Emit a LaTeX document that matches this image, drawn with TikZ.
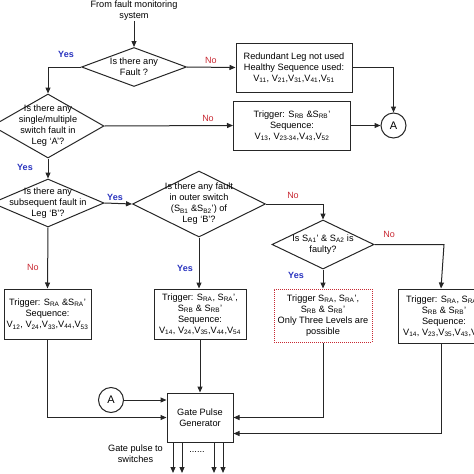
\documentclass[tikz,border=0pt]{standalone}
\usepackage{fontspec}
\setmainfont{Liberation Sans}
\usetikzlibrary{shapes.geometric,arrows.meta,calc}
\newcommand\sbs[1]{\textsubscript{#1}}
\definecolor{yesblue}{RGB}{40,50,190}
\definecolor{nored}{RGB}{200,40,50}
\begin{document}
\begin{tikzpicture}[x=1pt,y=-1pt,
  every node/.style={font=\fontsize{9.2}{11}\selectfont},
  ln/.style={line width=1pt,draw=black!85},
  arr/.style={ln,-{Triangle[length=6pt,width=5pt]}},
  box/.style={draw=black!85,line width=1pt,align=center,inner sep=1pt},
  dia/.style={diamond,draw=black!85,line width=1pt,inner sep=0pt},
  ctext/.style={align=center,inner sep=0pt},
  yes/.style={text=yesblue,font=\fontsize{9}{10}\selectfont\bfseries},
  no/.style={text=nored,font=\fontsize{9}{10}\selectfont},
  conn/.style={circle,draw=black!85,line width=1pt,minimum size=25pt,inner sep=0pt,font=\fontsize{11}{12}\selectfont}
]
\useasboundingbox (0,0) rectangle (474,474);

\node[ctext] (src) at (134,11) {From fault monitoring\\system};
\node[dia,minimum width=105pt,minimum height=39pt,label={[ctext]center:{Is there any\\Fault ?}}] (d1) at (134,67) {};
\node[dia,minimum width=112pt,minimum height=64pt,label={[ctext]center:{Is there any\\single/multiple\\switch fault in\\Leg `A'?}}] (d2) at (48,126) {};
\node[dia,minimum width=112pt,minimum height=48pt,label={[ctext]center:{Is there any\\subsequent fault in\\Leg `B'?}}] (d3) at (48,203) {};
\node[dia,minimum width=133pt,minimum height=66pt,label={[ctext]center:{Is there any fault\\in outer switch\\(S\sbs{B1} \&S\sbs{B2}') of\\Leg `B'?}}] (d4) at (199,204) {};
\node[dia,minimum width=102pt,minimum height=49pt,label={[ctext]center:{Is S\sbs{A1}' \& S\sbs{A2} is\\faulty?}}] (d5) at (323,244.5) {};

\node[box,minimum width=116pt,minimum height=49pt] (b1) at (294,67.5) {Redundant Leg not used\\Healthy Sequence used:\\V\sbs{11}, V\sbs{21},V\sbs{31},V\sbs{41},V\sbs{51}};
\node[box,minimum width=117pt,minimum height=49pt] (b2) at (292,125.5) {Trigger: S\sbs{RB} \&S\sbs{RB}'\\Sequence:\\V\sbs{13}, V\sbs{23-34},V\sbs{43},V\sbs{52}};
\node[conn] (a1) at (393.5,125.5) {A};

\node[box,minimum width=87pt,minimum height=50pt] (b3) at (47.5,314) {Trigger: S\sbs{RA} \&S\sbs{RA}'\\Sequence:\\V\sbs{12}, V\sbs{24},V\sbs{33},V\sbs{44},V\sbs{53}};
\node[box,minimum width=92pt,minimum height=50pt] (b4) at (200,314) {Trigger: S\sbs{RA}, S\sbs{RA}',\\S\sbs{RB} \& S\sbs{RB}'\\Sequence:\\V\sbs{14}, V\sbs{24},V\sbs{35},V\sbs{44},V\sbs{54}};
\node[box,draw=nored,densely dotted,minimum width=98pt,minimum height=53pt] (b5) at (323,315.5) {Trigger S\sbs{RA}, S\sbs{RA}',\\S\sbs{RB} \& S\sbs{RB}'\\Only Three Levels are\\possible};
\node[box,minimum width=92pt,minimum height=54pt] (b6) at (444,316) {Trigger: S\sbs{RA}, S\sbs{RA}',\\S\sbs{RB} \& S\sbs{RB}'\\Sequence:\\V\sbs{14}, V\sbs{23},V\sbs{35},V\sbs{43},V\sbs{53}};

\node[box,minimum width=66pt,minimum height=49pt] (gen) at (200,417.5) {Gate Pulse\\Generator};
\node[conn] (a2) at (111,400) {A};
\node[ctext] (gp) at (135.5,453.5) {Gate pulse to\\switches};
\node[ctext] (dots) at (197,452) {......};

\coordinate (o1) at (173,473);
\coordinate (o2) at (182,473);
\coordinate (o3) at (214,473);
\coordinate (o4) at (223,473);

% connectors
\draw[arr] (src.south) -- (d1.north);
\draw[arr] (d1.west) -| (d2.north);
\draw[arr] (d1.east) -- (b1.west);
\draw[arr] (b1.east) -| (a1.north);
\draw[arr] (d2.east) -- (b2.west);
\draw[arr] (b2.east) -- (a1.west);
\draw[arr] (d2.south) -- (d3.north);
\draw[arr] (d3.east) -- (d4.west);
\draw[arr] (d3.south) -- (b3.north);
\draw[arr] (d4.south) -- (d4.south |- b4.north);
\draw[arr] (d4.east) -| (d5.north);
\draw[arr] (d5.south) -- (b5.north);
\draw[arr] (d5.east) -| (d5.east -| b6.north) -- ($(b6.north)+(-3,0)$);
\draw[arr] (b3.south) |- (gen.west);
\draw[arr] (a2.east) -- (a2.east -| gen.west);
\draw[arr] (b4.south) -- (gen.north);
\draw[arr] (b5.south) |- (gen.east);
\draw[arr] ($(b6.south)+(-3,0)$) |- ([yshift=9pt]gen.south east);
\foreach \o in {o1,o2,o3,o4} \draw[arr] (\o |- gen.south) -- (\o);

% labels
\node[yes] (y1) at (66,54) {Yes};
\node[no] (n1) at (211,60) {No};
\node[no] (n2) at (208,118) {No};
\node[yes] (y2) at (25,167) {Yes};
\node[yes] (y3) at (115,197) {Yes};
\node[no] (n3) at (293,195) {No};
\node[no] (n4) at (389,234) {No};
\node[yes] (y4) at (296,275) {Yes};
\node[no] (n5) at (33,267) {No};
\node[yes] (y5) at (185,268) {Yes};
\end{tikzpicture}
\end{document}
